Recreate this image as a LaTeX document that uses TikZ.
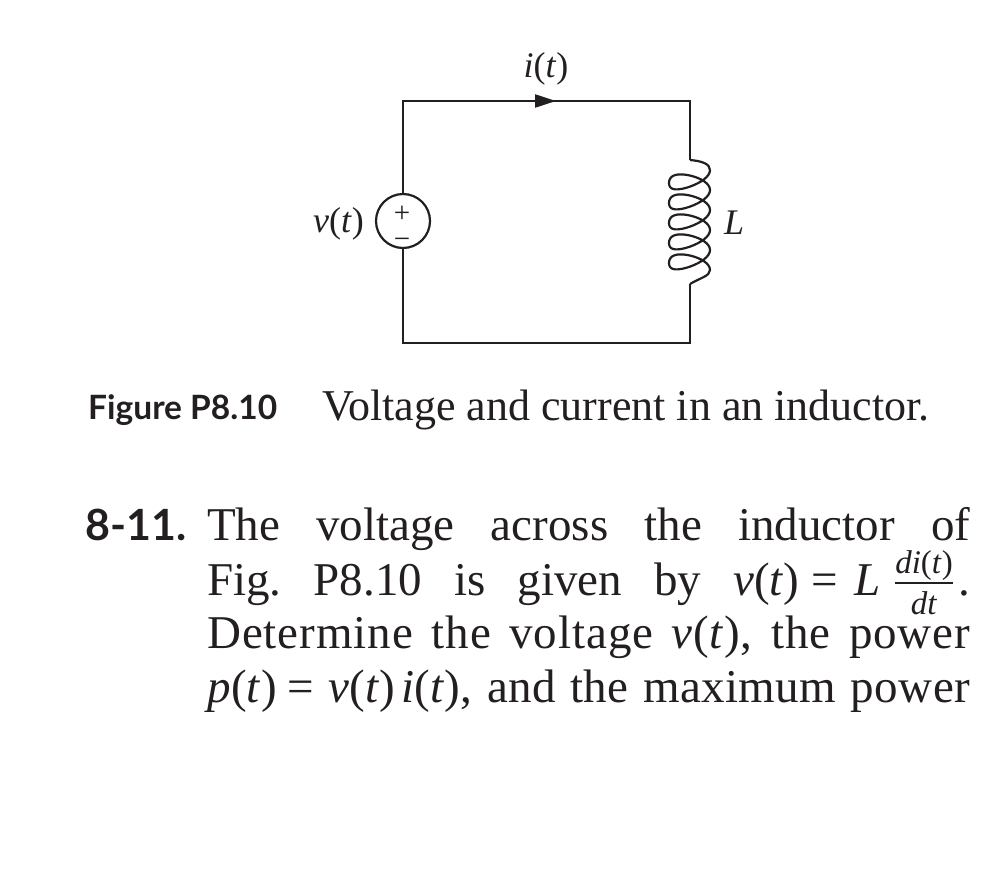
\documentclass[tikz,border=0pt]{standalone}
\usepackage{fontspec}
\setmainfont{Liberation Serif}
\newfontfamily\headfont{Lato}
\usetikzlibrary{arrows.meta}
\definecolor{inkc}{HTML}{231F20}
\newcommand{\bodysize}{\fontsize{47}{54}\selectfont}
\newcommand{\capsize}{\fontsize{44}{50}\selectfont}
\newcommand{\labsize}{\fontsize{36}{42}\selectfont}
\newcommand{\fracsize}{\fontsize{33}{38}\selectfont}
\frenchspacing
\begin{document}
\begin{tikzpicture}[x=1pt,y=-1pt,
    wire/.style={draw=inkc,line width=2.2pt,line join=miter},
    lab/.style={anchor=base,inner sep=0pt,text=inkc,font=\labsize},
    txt/.style={anchor=base west,inner sep=0pt,text=inkc,font=\bodysize},
    sign/.style={anchor=base,inner sep=0pt,text=inkc,font=\fontsize{29}{30}\selectfont},
    source/.style={circle,draw=inkc,line width=2.2pt,minimum size=54pt,inner sep=0pt}]
    \useasboundingbox (0,0) rectangle (1000,881);
    \coordinate (topleft) at (403,101);
    \coordinate (topright) at (690,101);
    \coordinate (botleft) at (403,343);
    \coordinate (botright) at (690,343);
    \coordinate (coilin) at (690,160);
    \coordinate (coilout) at (690,284);
    \coordinate (arrowtip) at (556,101);
    \node[source] (vs) at (403,221) {};
    \node[sign] (vsplus) at (402,222) {+};
    \node[sign] (vsminus) at (402,248) {−};
    \draw[wire] (vs) -- (topleft) -- (topright) -- (coilin);
    \draw[wire] (vs) -- (botleft) -- (botright) -- (coilout);
    \draw[wire,-{Triangle[length=21pt,width=13pt]}] (topleft) -- (arrowtip);
    \draw[wire] (coilin) .. controls (702,161) and (710,164) .. (710,170)
        plot[domain=0:1800,samples=201,variable=\t] ({686.5+20.5*cos(\t)+3*cos(2*\t)},{171.5+\t/18+12*sin(\t)-1.5*cos(\t)})
        .. controls (710,276) and (700,278) .. (coilout);
    \node[lab] (vlab) at (338.5,232) {\textit{v}(\textit{t})};
    \node[lab] (ilab) at (546,77.5) {\textit{i}(\textit{t})};
    \node[lab] (Llab) at (734,234) {\textit{L}};
    \node[anchor=base west,inner sep=0pt,text=inkc,font=\headfont\bfseries\fontsize{33.5}{40}\selectfont] (figtag) at (88,419) {Figure P8.10};
    \node[txt,font=\capsize] (figcap) at (322,420) {Voltage and current in an inductor.};
    \node[anchor=base west,inner sep=0pt,text=inkc,font=\headfont\bfseries\fontsize{43}{50}\selectfont] (probnum) at (85,540) {8-11.};
    \node[txt] (lineone) at (207,540) {\makebox[763pt][s]{The voltage across the inductor of}};
    \node[txt] (linetwo) at (207,595) {\makebox[673pt][s]{Fig. P8.10 is given by \mbox{\textit{v}(\textit{t})\hspace{12pt}=\hspace{16pt}\textit{L}}}};
    \node[lab,font=\fracsize] (fracnum) at (924,573) {\textit{di}(\textit{t})};
    \node[lab,font=\fracsize] (fracden) at (924,614) {\textit{dt}};
    \coordinate (barleft) at (895,583);
    \coordinate (barright) at (953,583);
    \draw[draw=inkc,line width=1.6pt] (barleft) -- (barright);
    \node[txt] (fracdot) at (958,595) {.};
    \node[txt] (linethree) at (207,648) {\addfontfeature{LetterSpace=2}\makebox[763pt][s]{Determine the voltage \textit{v}(\textit{t}), the power}};
    \node[txt] (linefour) at (207,702) {\addfontfeature{LetterSpace=1}\makebox[763pt][s]{\mbox{\textit{p}(\textit{t})\hspace{11pt}=\hspace{14pt}\textit{v}(\textit{t})\hspace{5.5pt}\textit{i}(\textit{t}),} and the maximum power}};
\end{tikzpicture}
\end{document}
